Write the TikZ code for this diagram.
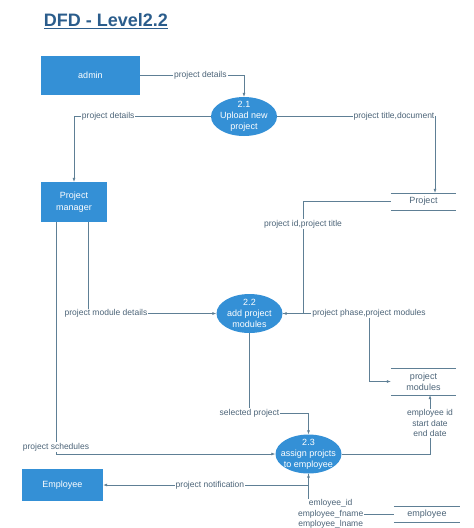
\documentclass[tikz,border=0pt]{standalone}
\usepackage{fontspec}
\setmainfont{Liberation Sans}
\usetikzlibrary{arrows.meta,shapes.geometric}
\definecolor{boxblue}{HTML}{3490D6}
\definecolor{flowline}{HTML}{5E7F95}
\definecolor{flowtext}{HTML}{4C6478}
\definecolor{titleblue}{HTML}{2B5D8C}
\begin{document}
\begin{tikzpicture}[x=1pt,y=-1pt,>={Latex[length=4pt,width=3pt]},font=\fontsize{8.5}{10.5}\selectfont]
		\tikzset{entity/.style={rectangle,fill=boxblue,text=white,align=center,inner sep=0,font=\fontsize{9}{11.5}\selectfont},
			proc/.style={ellipse,fill=boxblue,text=white,align=center,inner xsep=-8pt,inner ysep=-4pt,minimum width=66pt,minimum height=39pt,font=\fontsize{9}{11}\selectfont},
			store/.style={text=flowtext,align=center,inner sep=0,minimum width=65pt,font=\fontsize{9}{11}\selectfont},
			flow/.style={draw=flowline,line width=0.6pt},
			lbl/.style={fill=white,text=flowtext,inner sep=1pt,align=center}}
		\useasboundingbox (0,0) rectangle (474,528);
		\node[text=titleblue,font=\bfseries\fontsize{18}{21}\selectfont] (title) at (106,21) {\underline{DFD - Level2.2}};
		% external entities
		\node[entity,minimum width=99pt,minimum height=39pt] (admin) at (90.5,75.5) {admin};
		\node[entity,minimum width=66pt,minimum height=40pt] (pm) at (74,202) {Project\\manager};
		\node[entity,minimum width=81pt,minimum height=32pt] (emp) at (62.5,485) {Employee};
		% processes
		\node[proc] (p21) at (244,116.5) {2.1\\Upload new\\project};
		\node[proc] (p22) at (249.5,313.5) {2.2\\add project\\modules};
		\node[proc] (p23) at (308.5,454) {2.3\\assign projcts\\to employee};
		% data stores
		\node[store,minimum height=17pt] (sproj) at (423.5,201.5) {Project};
		\node[store,minimum height=27pt] (smod) at (423.5,381.5) {project\\modules};
		\node[store,minimum width=66pt,minimum height=16pt] (semp) at (427,514) {employee};
		\foreach \s in {sproj,smod,semp}
			\draw[flow] (\s.north west)--(\s.north east) (\s.south west)--(\s.south east);
		\coordinate (idbend) at (303,313.5);
		\coordinate (phbend) at (369,313.5);
		\coordinate (selbend) at (308.5,413);
		% flows
		\draw[flow,->] (admin.east) -| node[lbl,pos=0.29]{project details} (p21.north);
		\draw[flow,->] (p21.west) -| node[lbl,pos=0.375]{project details} (pm.north);
		\draw[flow,->] (p21.east) -| node[lbl,pos=0.37]{project title,document} ([xshift=11.5pt]sproj.north);
		\draw[flow,->] (sproj.west) -| node[lbl,pos=0.6]{project id,project title} (idbend) -- (p22.east);
		\draw[flow,->] (p22.east) -- (phbend) node[lbl]{project phase,project modules} |- (smod.west);
		\draw[flow,->] ([xshift=14pt]pm.south) |- node[lbl,pos=0.57]{project module details} (p22.west);
		\draw[flow,->] ([xshift=-18pt]pm.south) |- node[lbl,pos=0.5,yshift=7pt]{project schedules} (p23.west);
		\draw[flow,->] (p22.south) |- node[lbl,pos=0.5]{selected project} (selbend) -- (p23.north);
		\draw[flow,->] (p23.east) -| node[lbl,pos=0.76]{employee id\\start date\\end date} ([xshift=6.5pt]smod.south);
		\draw[flow,->] (semp.west) -| node[lbl,pos=0.37]{emloyee\_id\\employee\_fname\\employee\_lname} (p23.south);
		\draw[flow,->] (p23.south) |- node[lbl,pos=0.74]{project notification} (emp.east);
\end{tikzpicture}
\end{document}
